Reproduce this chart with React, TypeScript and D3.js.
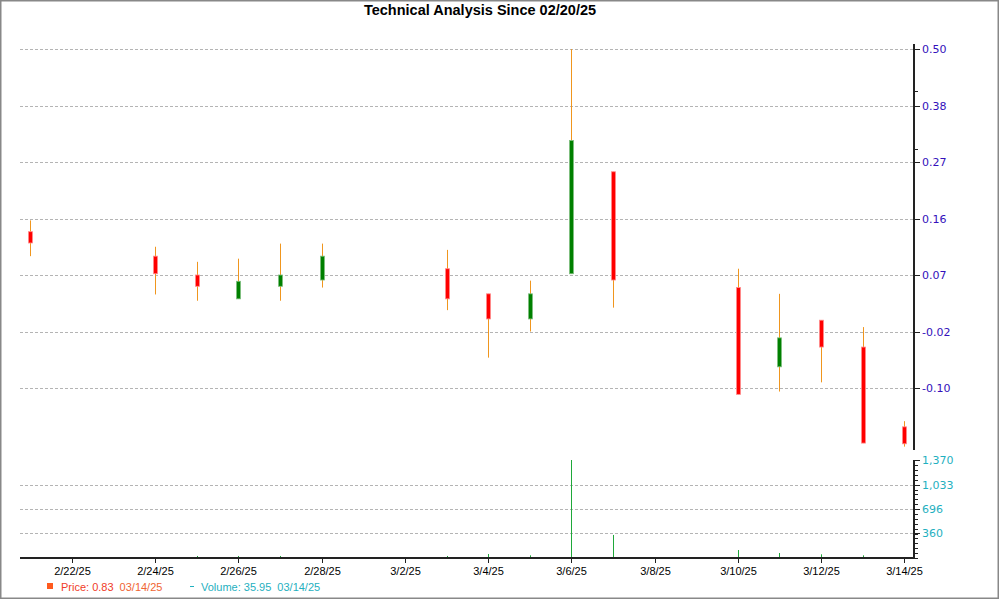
import React from 'react';
import * as d3 from 'd3';

// daily candles (values as shown on the price axis)
const dates = [
  '02/21/25', '02/24/25', '02/25/25', '02/26/25', '02/27/25', '02/28/25',
  '03/03/25', '03/04/25', '03/05/25', '03/06/25', '03/07/25',
  '03/10/25', '03/11/25', '03/12/25', '03/13/25', '03/14/25',
];
const openVals = [0.139, 0.100, 0.070, 0.032, 0.052, 0.062, 0.080, 0.040, 0.000, 0.072, 0.251, 0.050, -0.070, -0.002, -0.042, -0.155];
const highVals = [0.157, 0.115, 0.091, 0.096, 0.120, 0.120, 0.110, 0.040, 0.061, 0.500, 0.251, 0.080, 0.040, -0.002, -0.013, -0.147];
const lowVals = [0.100, 0.039, 0.029, 0.032, 0.029, 0.050, 0.014, -0.057, -0.020, 0.072, 0.018, -0.109, -0.105, -0.092, -0.178, -0.183];
const closeVals = [0.121, 0.072, 0.052, 0.060, 0.070, 0.100, 0.032, 0.000, 0.040, 0.312, 0.062, -0.109, -0.029, -0.042, -0.178, -0.179];
const volumes = [24, 26, 51, 51, 51, 27, 51, 78, 60, 1370, 340, 133, 92, 74, 60, 36];

const priceTicks = [-0.10, -0.02, 0.07, 0.16, 0.27, 0.38, 0.50];
const priceMinorTicks = [0.41, 0.295];
const volTicks = [360, 696, 1033, 1370];
const volMin = 23.33;
const dateTicks = ['2/22/25', '2/24/25', '2/26/25', '2/28/25', '3/2/25', '3/4/25', '3/6/25', '3/8/25', '3/10/25', '3/12/25', '3/14/25'];

const W = 1000;
const H = 600;
const left = 20;
const right = 913;
const priceTop = 44;
const priceBottom = 450;
const gridTop = 49;
const gridBottom = 388;
const volTop = 460;
const volBottom = 558;

const parse = d3.timeParse('%m/%d/%y');
const parseShort = d3.timeParse('%-m/%-d/%y');

export default function App() {
  const days = dates.map(d => parse(d) as Date);

  const x = d3
    .scaleTime()
    .domain([d3.timeHour.offset(days[0], -6), d3.timeHour.offset(days[days.length - 1], 5.25)])
    .range([left, right]);

  // the price axis is not evenly valued, so map tick to tick
  const step = (gridBottom - gridTop) / (priceTicks.length - 1);
  const y = d3
    .scaleLinear()
    .domain(priceTicks)
    .range(priceTicks.map((_, i) => gridBottom - i * step));

  const yVol = d3.scaleLinear().domain([volMin, volTicks[volTicks.length - 1]]).range([volBottom, volTop]);
  const volStep = (volTicks[1] - volTicks[0]) / 5;
  const volMinor = d3.range(volMin, volTicks[volTicks.length - 1] + 1, volStep);
  const fmt = d3.format(',.0f');

  const grid = '#b4b4b4';
  const wick = '#f0961e';
  const numFont = '"DejaVu Sans", Verdana, sans-serif';
  const textFont = '"Liberation Sans", Arial, sans-serif';

  return (
    <div style={{ position: 'absolute', left: 0, top: 0 }}>
      <svg width={W} height={H} style={{ display: 'block', background: '#fff' }}>
        <rect x={0.75} y={0.75} width={W - 2.5} height={H - 2.5} fill="none" stroke="#888" strokeWidth={1.5} />

        <text x={480} y={15} textAnchor="middle" fontFamily={textFont} fontWeight="bold" fontSize={14.5} fill="#000">
          Technical Analysis Since 02/20/25
        </text>

        {/* price grid */}
        {priceTicks.map(t => (
          <line key={'pg' + t} x1={left} x2={right} y1={Math.round(y(t)) + 0.5} y2={Math.round(y(t)) + 0.5}
            stroke={grid} strokeDasharray="3,2" />
        ))}
        {/* volume grid */}
        {volTicks.slice(0, -1).map(t => (
          <line key={'vg' + t} x1={left} x2={right} y1={Math.round(yVol(t)) + 0.5} y2={Math.round(yVol(t)) + 0.5}
            stroke={grid} strokeDasharray="3,2" />
        ))}

        {/* volume bars */}
        {days.map((d, i) => {
          const cx = Math.round(x(d)) + 0.5;
          return (
            <line key={'v' + i} x1={cx} x2={cx} y1={volBottom} y2={yVol(volumes[i])} stroke="#1fa83a" strokeWidth={1} />
          );
        })}

        {/* candles */}
        {days.map((d, i) => {
          const cx = Math.round(x(d)) + 0.5;
          const up = closeVals[i] >= openVals[i];
          const top = y(Math.max(openVals[i], closeVals[i]));
          const bot = y(Math.min(openVals[i], closeVals[i]));
          return (
            <g key={'c' + i}>
              <line x1={cx} x2={cx} y1={y(highVals[i])} y2={y(lowVals[i])} stroke={wick} strokeWidth={1} />
              <rect x={cx - 2} y={top} width={4} height={Math.max(1, bot - top)}
                fill={up ? '#008000' : '#ff0000'} stroke={up ? '#7fbf7f' : '#ff8c8c'} strokeWidth={0.8} />
            </g>
          );
        })}

        {/* price axis */}
        <line x1={right + 1} x2={right + 1} y1={priceTop} y2={priceBottom} stroke="#222" strokeWidth={2} />
        {priceTicks.map(t => (
          <g key={'pt' + t} transform={`translate(0,${Math.round(y(t)) + 0.5})`}>
            <line x1={right + 2} x2={right + 7} stroke="#222" />
            <text x={922} dy="0.35em" fontFamily={numFont} fontSize={11} fill="#3311bb">{t.toFixed(2)}</text>
          </g>
        ))}
        {priceMinorTicks.map(t => (
          <line key={'pm' + t} x1={right + 2} x2={right + 5} y1={Math.round(y(t)) + 0.5} y2={Math.round(y(t)) + 0.5} stroke="#222" />
        ))}

        {/* volume axis */}
        <line x1={right + 1} x2={right + 1} y1={volTop} y2={volBottom + 1} stroke="#222" strokeWidth={2} />
        {volMinor.map(t => (
          <line key={'vm' + t} x1={right + 2} x2={right + 5} y1={Math.round(yVol(t)) + 0.5} y2={Math.round(yVol(t)) + 0.5} stroke="#222" />
        ))}
        {volTicks.map(t => (
          <g key={'vt' + t} transform={`translate(0,${Math.round(yVol(t)) + 0.5})`}>
            <line x1={right + 2} x2={right + 7} stroke="#222" />
            <text x={922} dy="0.35em" fontFamily={numFont} fontSize={11} fill="#1fb0c0">{fmt(t)}</text>
          </g>
        ))}

        {/* date axis */}
        <line x1={left} x2={right + 2} y1={volBottom} y2={volBottom} stroke="#222" strokeWidth={2} />
        {dateTicks.map(t => {
          const tx = Math.round(x(parseShort(t) as Date)) + 0.5;
          return (
            <g key={'dt' + t}>
              <line x1={tx} x2={tx} y1={volBottom} y2={volBottom + 5} stroke="#222" />
              <text x={tx} y={575} textAnchor="middle" fontFamily={textFont} fontSize={11} fill="#000">{t}</text>
            </g>
          );
        })}

        {/* legend */}
        <rect x={47} y={583} width={6} height={6} fill="#ff5a1e" />
        <text x={61} y={591} fontFamily={textFont} fontSize={11}>
          <tspan fill="#f03c28">Price: 0.83</tspan>
          <tspan fill="#f06432" dx={6}>03/14/25</tspan>
        </text>
        <line x1={190} x2={194} y1={586.5} y2={586.5} stroke="#1fb0c0" />
        <text x={201} y={591} fontFamily={textFont} fontSize={11} fill="#1fb0c0">
          Volume: 35.95<tspan dx={6}>03/14/25</tspan>
        </text>
      </svg>
    </div>
  );
}
